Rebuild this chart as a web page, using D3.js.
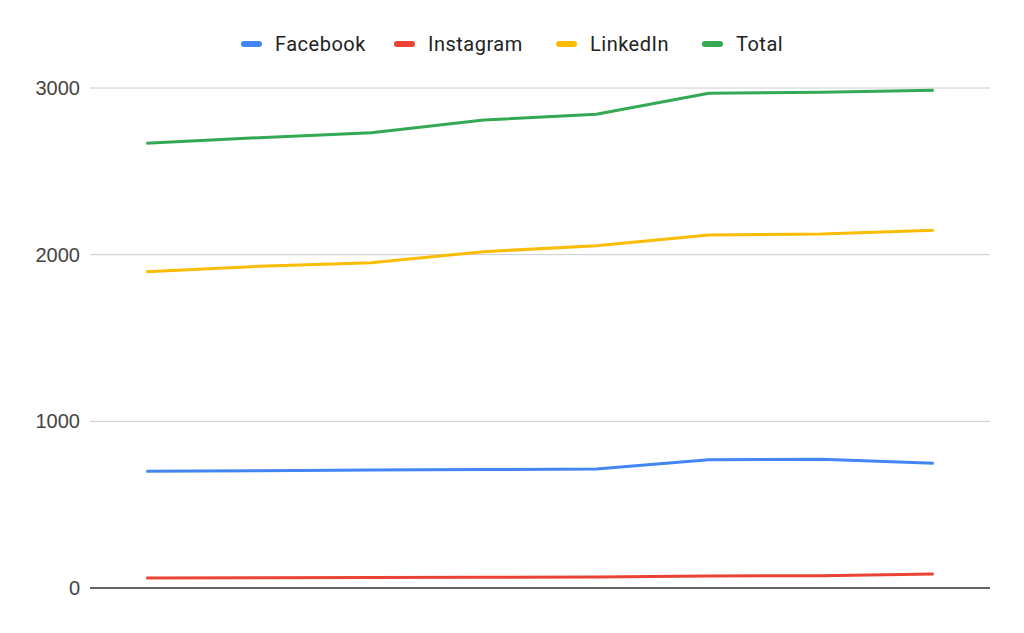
<!DOCTYPE html>
<html>
<head>
<meta charset="utf-8">
<script src="https://cdn.jsdelivr.net/npm/d3@7"></script>
<style>
  body { margin: 0; background: #fff; }
  svg { display: block; font-family: Roboto, Arial, sans-serif; }
</style>
</head>
<body>
<svg class="chart" width="1024" height="633"></svg>
<script>
// data (x axis has no labels, 8 periods)
var periods = ["P1", "P2", "P3", "P4", "P5", "P6", "P7", "P8"];
var facebook = [700, 704, 708, 711, 714, 770, 772, 748];
var instagram = [60, 62, 63, 64, 66, 72, 74, 84];
var linkedin = [1898, 1930, 1952, 2018, 2054, 2118, 2124, 2146];
var total = [2668, 2702, 2732, 2808, 2842, 2968, 2974, 2986];
var seriesNames = ["Facebook", "Instagram", "LinkedIn", "Total"];
var yTicks = [0, 1000, 2000, 3000];

var colors = ["#4285f4", "#ea4335", "#fbbc04", "#34a853"];
var seriesValues = [facebook, instagram, linkedin, total];

var svg = d3.select("svg.chart");
var margin = {top: 88, right: 34, bottom: 45, left: 90};
var width = 1024 - margin.left - margin.right,
    height = 633 - margin.top - margin.bottom;
var g = svg.append("g").attr("transform", "translate(" + margin.left + "," + margin.top + ")");

var x = d3.scalePoint()
    .domain(periods)
    .range([0, width])
    .padding(0.5);
var y = d3.scaleLinear()
    .domain([0, 3000])
    .range([height, 0]);

// gridlines
g.selectAll("line.grid")
  .data(yTicks.filter(function(d) { return d > 0; }))
  .enter().append("line")
    .attr("class", "grid")
    .attr("x1", 0).attr("x2", width)
    .attr("y1", function(d) { return y(d); })
    .attr("y2", function(d) { return y(d); })
    .attr("stroke", "#cccccc")
    .attr("stroke-width", 1);

// y axis labels
var yAxis = d3.axisLeft(y).tickValues(yTicks).tickFormat(d3.format("d")).tickSize(0).tickPadding(10);
var ya = g.append("g").call(yAxis);
ya.select(".domain").remove();
ya.selectAll("text")
    .attr("fill", "#444")
    .attr("font-size", 20);

// lines
var line = d3.line()
    .x(function(d, i) { return x(periods[i]); })
    .y(function(d) { return y(d); });

g.selectAll("path.series")
  .data(seriesValues)
  .enter().append("path")
    .attr("class", "series")
    .attr("fill", "none")
    .attr("stroke", function(d, i) { return colors[i]; })
    .attr("stroke-width", 3)
    .attr("stroke-linejoin", "round")
    .attr("d", line);

// baseline
g.append("line")
    .attr("x1", 0).attr("x2", width)
    .attr("y1", y(0)).attr("y2", y(0))
    .attr("stroke", "#333")
    .attr("stroke-width", 1.5);

// legend
var legendX = [241, 394, 556, 702];
var leg = svg.append("g").attr("transform", "translate(0,44)");
var item = leg.selectAll("g.item")
  .data(seriesNames)
  .enter().append("g")
    .attr("class", "item")
    .attr("transform", function(d, i) { return "translate(" + legendX[i] + ",0)"; });
item.append("rect")
    .attr("x", 0).attr("y", -3)
    .attr("width", 21).attr("height", 6)
    .attr("rx", 3)
    .attr("fill", function(d, i) { return colors[i]; });
item.append("text")
    .attr("x", 34)
    .attr("dy", "0.35em")
    .attr("font-size", 20)
    .attr("letter-spacing", 0.5)
    .attr("fill", "#222")
    .text(function(d) { return d; });
</script>
</body>
</html>
